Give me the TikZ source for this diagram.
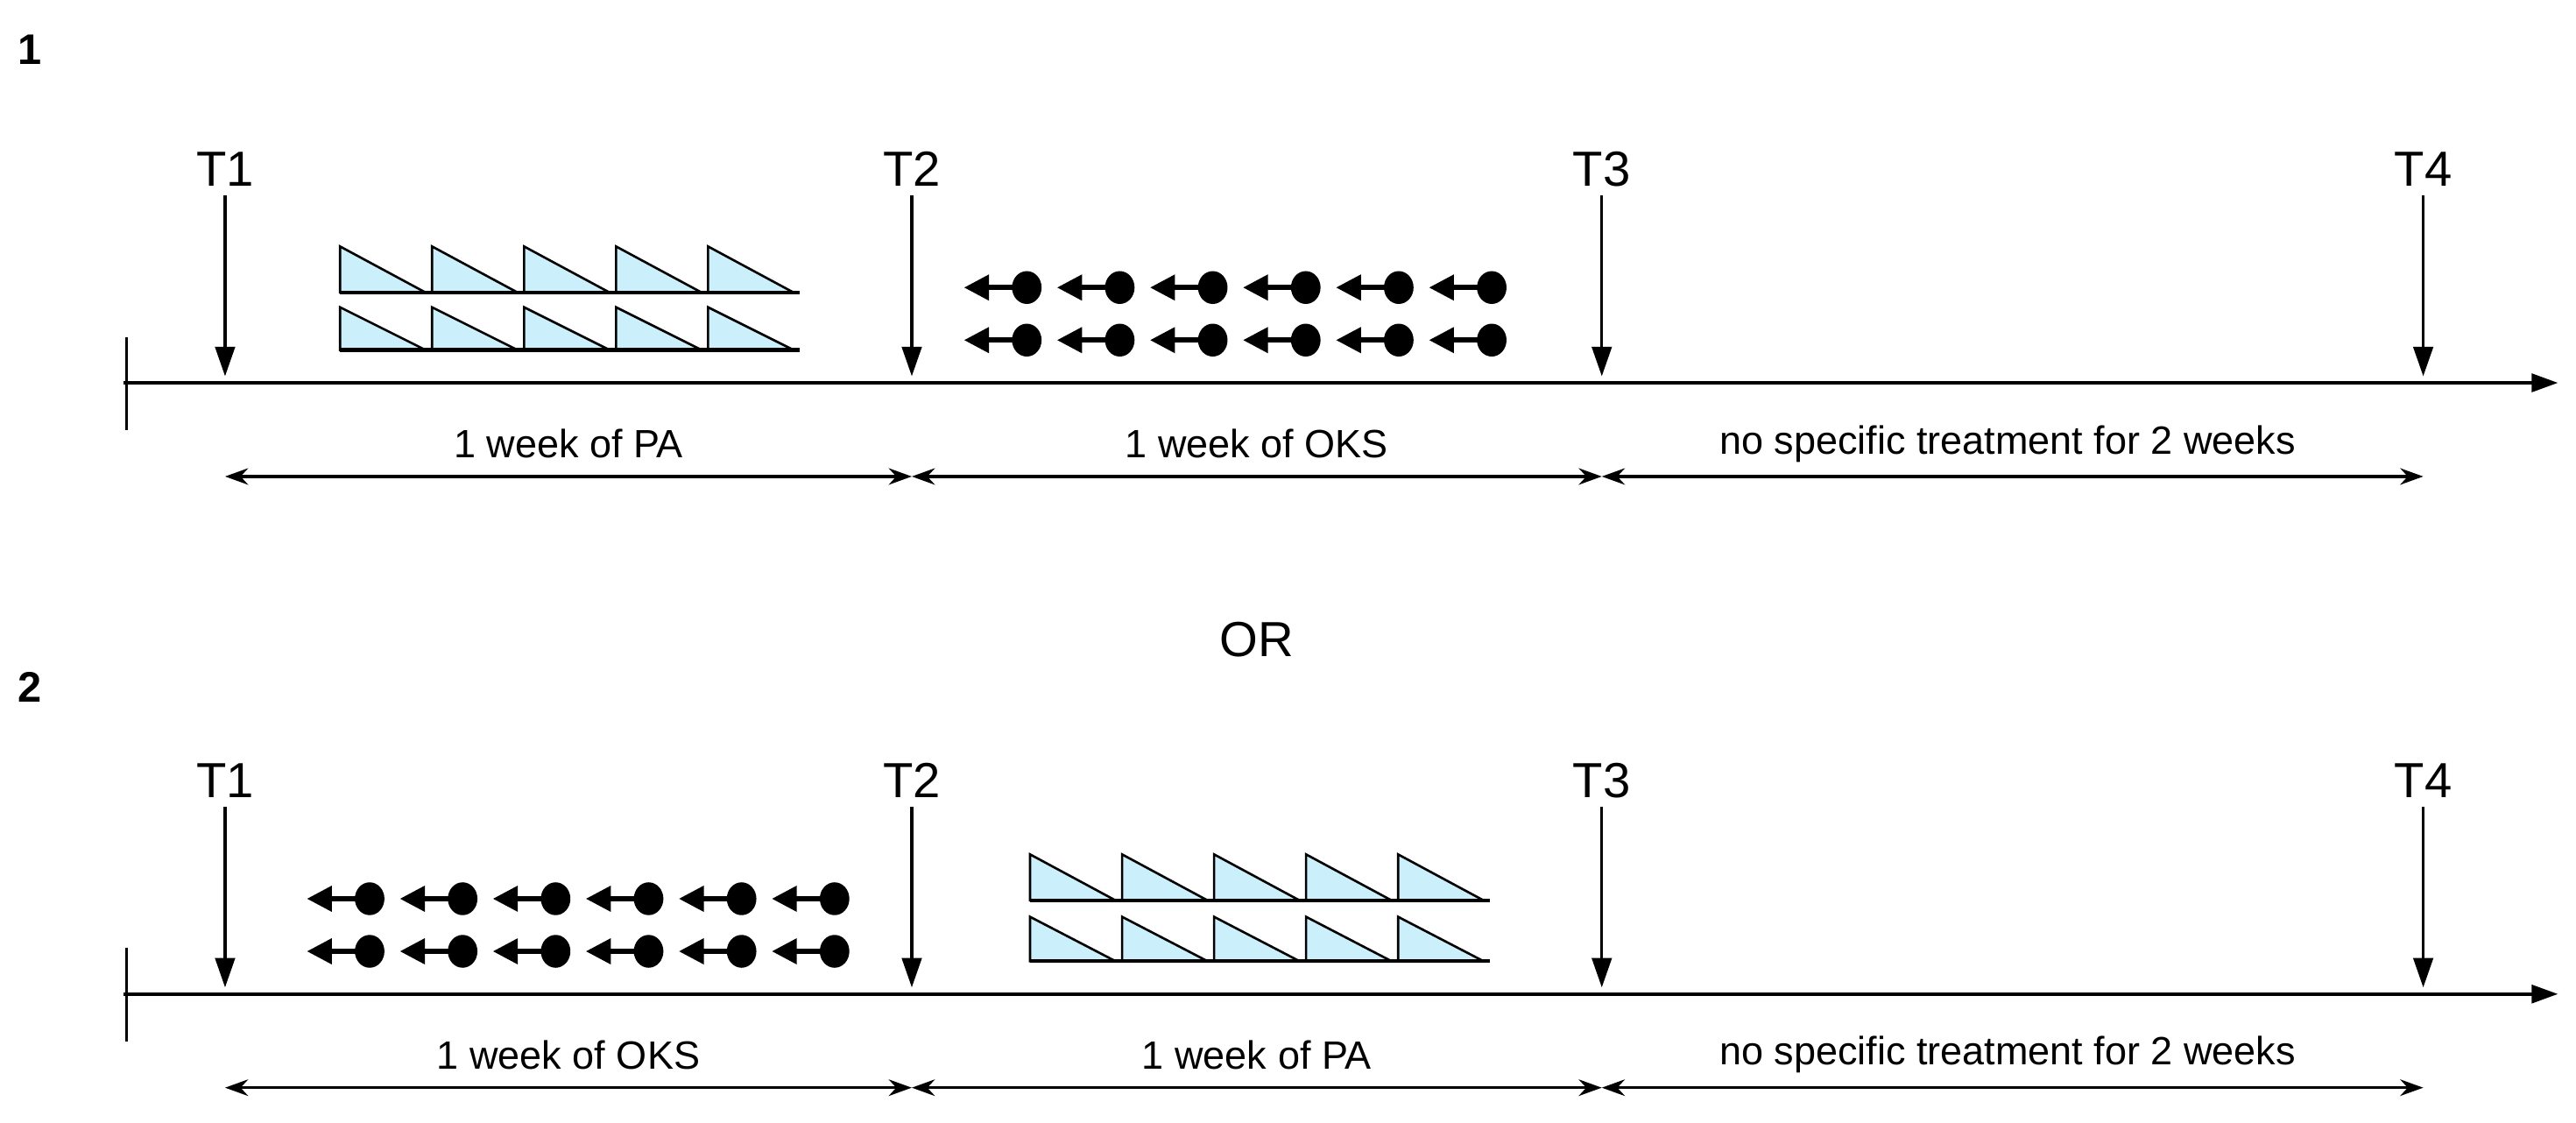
\documentclass[tikz,border=0pt]{standalone}
\usepackage{fontspec}
\setmainfont{Liberation Sans}
\usetikzlibrary{arrows.meta}
\begin{document}
\begin{tikzpicture}[x=1pt,y=-1pt,
  tarr/.style={-{Triangle[length=18pt,width=12pt]},line width=1.8pt},
  dbl/.style={{Stealth[length=14pt,width=10pt]}-{Stealth[length=14pt,width=10pt]},line width=1.8pt},
  lab/.style={font=\fontsize{30}{34}\selectfont},
  per/.style={font=\fontsize{24}{28}\selectfont},
  tri/.style={fill=cyan!20,draw=black,line width=1.4pt,line join=miter},
  pnum/.style={font=\bfseries\fontsize{26}{30}\selectfont}]
\useasboundingbox (0,0) rectangle (1568,683);
\newcommand{\trirow}[3]{% x0, ybottom, height
  \foreach \i in {0,...,4}{\path[tri] ({#1+\i*56},{#2-#3}) -- ({#1+\i*56+52},#2) -- ({#1+\i*56},#2) -- cycle;}
  \draw[line width=2.2pt] (#1,#2) -- ({#1+280},#2);}
\newcommand{\dotrow}[2]{% x of first dot, y
  \foreach \i in {0,...,5}{
    \draw[line width=3pt] ({#1+\i*56.6-30},#2) -- ({#1+\i*56.6},#2);
    \fill ({#1+\i*56.6-38},#2) -- ({#1+\i*56.6-23},{#2-8}) -- ({#1+\i*56.6-23},{#2+8}) -- cycle;
    \fill ({#1+\i*56.6},#2) ellipse (9 and 10);}}
\node[pnum] (n1) at (18,30) {1};
\node[pnum] (n2) at (18,418) {2};
\node[lab] (or) at (765,389) {OR};
\foreach \yo/\ia/\la/\lb in {0/1/1 week of PA/1 week of OKS, 372/2/1 week of OKS/1 week of PA}{
  \begin{scope}[yshift={-\yo pt}]
  \coordinate (s) at (75,233); \coordinate (e) at (1557,233);
  \draw[-{Triangle[length=16pt,width=11pt]},line width=2pt] (s) -- (e);
  \coordinate (tk1) at (77,205); \coordinate (tk2) at (77,262);
  \draw[line width=1.6pt] (tk1) -- (tk2);
  \foreach \n/\x in {1/137,2/555,3/975,4/1475}{
    \node[lab] (T\n) at (\x,103) {T\n};
    \coordinate (a\n) at (\x,229);
    \draw[tarr] (\x,119) -- (a\n);
    \coordinate (d\n) at (\x,290);}
  \draw[dbl] (d1) -- (d2); \draw[dbl] (d2) -- (d3); \draw[dbl] (d3) -- (d4);
  \node[per] (p1) at (346,270) {\la};
  \node[per] (p2) at (765,270) {\lb};
  \node[per] (p3) at (1222,270) {no specific treatment for 2 weeks};
  \ifnum\ia=1
    \trirow{207}{178}{28}\trirow{207}{213}{26}
    \dotrow{625}{175}\dotrow{625}{207}
  \else
    \dotrow{225}{175}\dotrow{225}{207}
    \trirow{627}{176}{28}\trirow{627}{213}{27}
  \fi
  \end{scope}}
\end{tikzpicture}
\end{document}
